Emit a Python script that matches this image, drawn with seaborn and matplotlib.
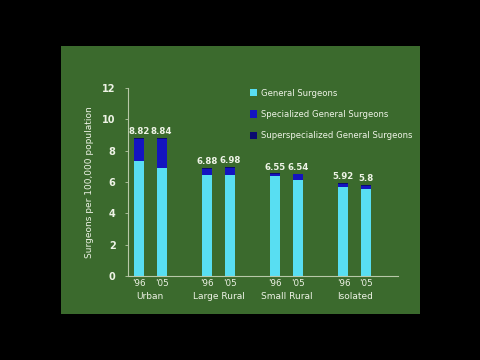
import matplotlib
matplotlib.use("Agg")
import matplotlib.pyplot as plt
import matplotlib.patches as mpatches
import seaborn as sns
import pandas as pd
import numpy as np

groups = ["Urban", "Large Rural", "Small Rural", "Isolated"]
years = ["'96", "'05"]
general = [7.36, 6.91, 6.42, 6.45, 6.40, 6.15, 5.67, 5.53]
specialized = [1.36, 1.83, 0.40, 0.47, 0.10, 0.33, 0.20, 0.22]
superspecialized = [0.10, 0.10, 0.06, 0.06, 0.05, 0.06, 0.05, 0.05]
totals = [8.82, 8.84, 6.88, 6.98, 6.55, 6.54, 5.92, 5.8]
series_names = ["General Surgeons", "Specialized General Surgeons",
                "Superspecialized General Surgeons"]
yticks = [0, 2, 4, 6, 8, 10, 12]

c_gen = "#58def2"
c_spec = "#1414c0"
c_super = "#0a0a70"
green = "#3b6a2d"
txt = "#eef3e6"

sns.set_theme(style="white")
plt.rcParams['font.family'] = ['DejaVu Sans']

pos = [g * 3 + j for g in range(len(groups)) for j in range(len(years))]
df = pd.DataFrame({
    "pos": pos,
    "general": general,
    "gen_spec": np.array(general) + np.array(specialized),
    "total": totals,
})

fig = plt.figure(figsize=(4.8, 3.6), dpi=100, facecolor="black")
bg = fig.add_axes([61 / 480, 1 - 314 / 360, 359 / 480, 268 / 360])
bg.set_facecolor(green)
bg.set_xticks([])
bg.set_yticks([])
for s in bg.spines.values():
    s.set_visible(False)
bg.set_zorder(0)

ax = fig.add_axes([128 / 480, 84 / 360, 270 / 480, 188 / 360])
ax.set_facecolor("none")
ax.set_zorder(1)

w = 0.44
sns.barplot(data=df, x="pos", y="total", native_scale=True, color=c_super,
            width=w, saturation=1, ax=ax, linewidth=0)
sns.barplot(data=df, x="pos", y="gen_spec", native_scale=True, color=c_spec,
            width=w, saturation=1, ax=ax, linewidth=0)
sns.barplot(data=df, x="pos", y="general", native_scale=True, color=c_gen,
            width=w, saturation=1, ax=ax, linewidth=0)

for p, t in zip(pos, totals):
    ax.text(p, t + 0.12, f"{t:g}", ha="center", va="bottom", color=txt,
            fontsize=6.2, fontweight="bold")

ax.set_xlim(-0.48, 11.4)
ax.set_ylim(0, 12)
ax.set_yticks(yticks)
ax.set_yticklabels([str(v) for v in yticks], color=txt, fontsize=7, fontweight="bold")
ax.set_xticks(pos)
ax.set_xticklabels([years[j] for g in range(len(groups)) for j in range(len(years))],
                   color=txt, fontsize=6.3)
ax.tick_params(axis="x", length=0, pad=2)
ax.tick_params(axis="y", length=2, width=0.6, color="#b8c8a8", pad=7, left=True)
for g, name in enumerate(groups):
    ax.text(g * 3 + 0.5, -1.05, name, ha="center", va="top", color=txt, fontsize=6.5,
            transform=ax.transData)
ax.set_xlabel("")
ax.set_ylabel("Surgeons per 100,000 population", color=txt, fontsize=6.5, labelpad=6)
for s in ["top", "right"]:
    ax.spines[s].set_visible(False)
for s in ["left", "bottom"]:
    ax.spines[s].set_color("#b8c8a8")
    ax.spines[s].set_linewidth(0.8)

handles = [mpatches.Patch(facecolor=c, edgecolor="none") for c in (c_gen, c_spec, c_super)]
leg = fig.legend(handles, series_names, loc="upper left",
                 bbox_to_anchor=(242 / 480, 1 - 81 / 360), frameon=False,
                 fontsize=6.1, labelcolor=txt, handlelength=0.9, handleheight=0.9,
                 handletextpad=0.5, labelspacing=1.45)
leg.set_zorder(5)

fig.savefig("out.png", dpi=100, facecolor="black")
